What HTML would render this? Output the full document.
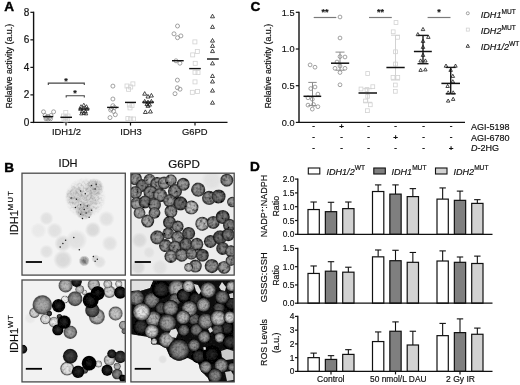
<!DOCTYPE html><html><head><meta charset="utf-8"><title>Figure</title><style>html,body{margin:0;padding:0;background:#fff}svg{display:block}text{stroke:#111;stroke-width:.18px}text.b{stroke:#000;stroke-width:.4px}</style></head><body>
<svg width="520" height="385" viewBox="0 0 520 385" font-family="Liberation Sans, Arial, sans-serif">
<rect width="520" height="385" fill="#fff"/>
<text x="4.2" y="11.1" font-size="13.6" text-anchor="start" fill="#000" class="b" font-weight="bold">A</text>
<line x1="33.6" y1="11.7" x2="33.6" y2="123.10000000000001" stroke="#111" stroke-width="1.4" stroke-linecap="butt"/>
<line x1="32.9" y1="122.4" x2="227.5" y2="122.4" stroke="#111" stroke-width="1.4" stroke-linecap="butt"/>
<line x1="30.400000000000002" y1="122.4" x2="33.6" y2="122.4" stroke="#111" stroke-width="1.2" stroke-linecap="butt"/>
<text x="29.3" y="125.9" font-size="10" text-anchor="end" fill="#111" >0</text>
<line x1="30.400000000000002" y1="94.88000000000001" x2="33.6" y2="94.88000000000001" stroke="#111" stroke-width="1.2" stroke-linecap="butt"/>
<text x="29.3" y="98.38000000000001" font-size="10" text-anchor="end" fill="#111" >2</text>
<line x1="30.400000000000002" y1="67.36000000000001" x2="33.6" y2="67.36000000000001" stroke="#111" stroke-width="1.2" stroke-linecap="butt"/>
<text x="29.3" y="70.86000000000001" font-size="10" text-anchor="end" fill="#111" >4</text>
<line x1="30.400000000000002" y1="39.84" x2="33.6" y2="39.84" stroke="#111" stroke-width="1.2" stroke-linecap="butt"/>
<text x="29.3" y="43.34" font-size="10" text-anchor="end" fill="#111" >6</text>
<line x1="30.400000000000002" y1="12.320000000000007" x2="33.6" y2="12.320000000000007" stroke="#111" stroke-width="1.2" stroke-linecap="butt"/>
<text x="29.3" y="15.820000000000007" font-size="10" text-anchor="end" fill="#111" >8</text>
<line x1="66" y1="122.4" x2="66" y2="125.60000000000001" stroke="#111" stroke-width="1.2" stroke-linecap="butt"/>
<line x1="130.5" y1="122.4" x2="130.5" y2="125.60000000000001" stroke="#111" stroke-width="1.2" stroke-linecap="butt"/>
<line x1="195" y1="122.4" x2="195" y2="125.60000000000001" stroke="#111" stroke-width="1.2" stroke-linecap="butt"/>
<text x="66.5" y="135" font-size="9.4" text-anchor="middle" fill="#111" >IDH1/2</text>
<text x="131" y="135" font-size="9.4" text-anchor="middle" fill="#111" >IDH3</text>
<text x="194.8" y="135" font-size="9.4" text-anchor="middle" fill="#111" >G6PD</text>
<text transform="translate(11.8,66.2) rotate(-90)" font-size="8.9" text-anchor="middle" fill="#111">Relative activity (a.u.)</text>
<path d="M48.3 85 V83.1 H84.3 V85" fill="none" stroke="#444" stroke-width="1.1"/>
<path d="M66.2 97.6 V95.8 H84.3 V97.6" fill="none" stroke="#444" stroke-width="1.1"/>
<text x="66" y="83.5" font-size="9" text-anchor="middle" fill="#111" font-weight="bold">*</text>
<text x="75" y="96" font-size="9" text-anchor="middle" fill="#111" font-weight="bold">*</text>
<circle cx="43.5" cy="111.8" r="2.0" fill="none" stroke="#8a8a8a" stroke-width="0.8"/>
<circle cx="53.6" cy="111.8" r="2.0" fill="none" stroke="#8a8a8a" stroke-width="0.8"/>
<circle cx="45.0" cy="115.5" r="2.0" fill="none" stroke="#8a8a8a" stroke-width="0.8"/>
<circle cx="48.0" cy="116.5" r="2.0" fill="none" stroke="#8a8a8a" stroke-width="0.8"/>
<circle cx="51.0" cy="115.5" r="2.0" fill="none" stroke="#8a8a8a" stroke-width="0.8"/>
<circle cx="46.5" cy="117.5" r="2.0" fill="none" stroke="#8a8a8a" stroke-width="0.8"/>
<circle cx="49.5" cy="117.8" r="2.0" fill="none" stroke="#8a8a8a" stroke-width="0.8"/>
<circle cx="48.0" cy="119.0" r="2.0" fill="none" stroke="#8a8a8a" stroke-width="0.8"/>
<circle cx="46.0" cy="118.8" r="2.0" fill="none" stroke="#8a8a8a" stroke-width="0.8"/>
<circle cx="50.5" cy="118.8" r="2.0" fill="none" stroke="#8a8a8a" stroke-width="0.8"/>
<line x1="43" y1="116.6" x2="53.2" y2="116.6" stroke="#111" stroke-width="1.4" stroke-linecap="butt"/>
<rect x="63.8" y="110.5" width="4.0" height="4.0" fill="none" stroke="#d2d2d2" stroke-width="0.8"/>
<rect x="61.5" y="114.0" width="4.0" height="4.0" fill="none" stroke="#d2d2d2" stroke-width="0.8"/>
<rect x="66.0" y="114.0" width="4.0" height="4.0" fill="none" stroke="#d2d2d2" stroke-width="0.8"/>
<rect x="63.8" y="115.5" width="4.0" height="4.0" fill="none" stroke="#d2d2d2" stroke-width="0.8"/>
<rect x="62.0" y="117.0" width="4.0" height="4.0" fill="none" stroke="#d2d2d2" stroke-width="0.8"/>
<rect x="65.5" y="117.0" width="4.0" height="4.0" fill="none" stroke="#d2d2d2" stroke-width="0.8"/>
<rect x="63.8" y="118.0" width="4.0" height="4.0" fill="none" stroke="#d2d2d2" stroke-width="0.8"/>
<line x1="60.4" y1="117.3" x2="72" y2="117.3" stroke="#111" stroke-width="1.4" stroke-linecap="butt"/>
<path d="M81.0 104.7 L82.8 107.9 L79.2 107.9 Z" fill="none" stroke="#1a1a1a" stroke-width="0.7"/>
<path d="M83.8 103.2 L85.6 106.4 L82.0 106.4 Z" fill="none" stroke="#1a1a1a" stroke-width="0.7"/>
<path d="M86.5 104.7 L88.3 107.9 L84.7 107.9 Z" fill="none" stroke="#1a1a1a" stroke-width="0.7"/>
<path d="M80.5 107.2 L82.3 110.4 L78.7 110.4 Z" fill="none" stroke="#1a1a1a" stroke-width="0.7"/>
<path d="M83.8 106.7 L85.6 109.9 L82.0 109.9 Z" fill="none" stroke="#1a1a1a" stroke-width="0.7"/>
<path d="M87.0 107.2 L88.8 110.4 L85.2 110.4 Z" fill="none" stroke="#1a1a1a" stroke-width="0.7"/>
<path d="M82.0 109.7 L83.8 112.9 L80.2 112.9 Z" fill="none" stroke="#1a1a1a" stroke-width="0.7"/>
<path d="M85.5 109.7 L87.3 112.9 L83.7 112.9 Z" fill="none" stroke="#1a1a1a" stroke-width="0.7"/>
<path d="M83.8 111.2 L85.6 114.4 L82.0 114.4 Z" fill="none" stroke="#1a1a1a" stroke-width="0.7"/>
<path d="M81.5 111.7 L83.3 114.9 L79.7 114.9 Z" fill="none" stroke="#1a1a1a" stroke-width="0.7"/>
<path d="M86.0 111.7 L87.8 114.9 L84.2 114.9 Z" fill="none" stroke="#1a1a1a" stroke-width="0.7"/>
<line x1="78.5" y1="109" x2="89.5" y2="109" stroke="#111" stroke-width="1.4" stroke-linecap="butt"/>
<circle cx="112.9" cy="86.1" r="2.0" fill="none" stroke="#8a8a8a" stroke-width="0.8"/>
<circle cx="112.9" cy="99.0" r="2.0" fill="none" stroke="#8a8a8a" stroke-width="0.8"/>
<circle cx="112.9" cy="105.7" r="2.0" fill="none" stroke="#8a8a8a" stroke-width="0.8"/>
<circle cx="110.7" cy="110.0" r="2.0" fill="none" stroke="#8a8a8a" stroke-width="0.8"/>
<circle cx="113.6" cy="111.4" r="2.0" fill="none" stroke="#8a8a8a" stroke-width="0.8"/>
<circle cx="115.3" cy="114.7" r="2.0" fill="none" stroke="#8a8a8a" stroke-width="0.8"/>
<circle cx="110.0" cy="117.6" r="2.0" fill="none" stroke="#8a8a8a" stroke-width="0.8"/>
<circle cx="111.5" cy="108.5" r="2.0" fill="none" stroke="#8a8a8a" stroke-width="0.8"/>
<circle cx="114.5" cy="107.5" r="2.0" fill="none" stroke="#8a8a8a" stroke-width="0.8"/>
<line x1="107.1" y1="107.4" x2="118.6" y2="107.4" stroke="#111" stroke-width="1.4" stroke-linecap="butt"/>
<rect x="130.9" y="81.9" width="4.0" height="4.0" fill="none" stroke="#d2d2d2" stroke-width="0.8"/>
<rect x="125.0" y="84.0" width="4.0" height="4.0" fill="none" stroke="#d2d2d2" stroke-width="0.8"/>
<rect x="128.7" y="85.0" width="4.0" height="4.0" fill="none" stroke="#d2d2d2" stroke-width="0.8"/>
<rect x="126.6" y="87.3" width="4.0" height="4.0" fill="none" stroke="#d2d2d2" stroke-width="0.8"/>
<rect x="127.3" y="103.0" width="4.0" height="4.0" fill="none" stroke="#d2d2d2" stroke-width="0.8"/>
<rect x="128.0" y="105.9" width="4.0" height="4.0" fill="none" stroke="#d2d2d2" stroke-width="0.8"/>
<rect x="130.0" y="103.5" width="4.0" height="4.0" fill="none" stroke="#d2d2d2" stroke-width="0.8"/>
<rect x="125.9" y="116.6" width="4.0" height="4.0" fill="none" stroke="#d2d2d2" stroke-width="0.8"/>
<rect x="128.7" y="117.0" width="4.0" height="4.0" fill="none" stroke="#d2d2d2" stroke-width="0.8"/>
<rect x="131.6" y="117.0" width="4.0" height="4.0" fill="none" stroke="#d2d2d2" stroke-width="0.8"/>
<line x1="125" y1="102.4" x2="136" y2="102.4" stroke="#111" stroke-width="1.4" stroke-linecap="butt"/>
<path d="M144.7 91.6 L146.7 95.2 L142.7 95.2 Z" fill="none" stroke="#1a1a1a" stroke-width="0.8"/>
<path d="M148.0 94.4 L150.0 98.0 L146.0 98.0 Z" fill="none" stroke="#1a1a1a" stroke-width="0.8"/>
<path d="M151.4 93.4 L153.4 97.0 L149.4 97.0 Z" fill="none" stroke="#1a1a1a" stroke-width="0.8"/>
<path d="M144.7 99.4 L146.7 103.0 L142.7 103.0 Z" fill="none" stroke="#1a1a1a" stroke-width="0.8"/>
<path d="M148.0 100.1 L150.0 103.7 L146.0 103.7 Z" fill="none" stroke="#1a1a1a" stroke-width="0.8"/>
<path d="M151.4 99.4 L153.4 103.0 L149.4 103.0 Z" fill="none" stroke="#1a1a1a" stroke-width="0.8"/>
<path d="M148.0 103.7 L150.0 107.3 L146.0 107.3 Z" fill="none" stroke="#1a1a1a" stroke-width="0.8"/>
<path d="M145.4 109.9 L147.4 113.5 L143.4 113.5 Z" fill="none" stroke="#1a1a1a" stroke-width="0.8"/>
<path d="M150.4 109.4 L152.4 113.0 L148.4 113.0 Z" fill="none" stroke="#1a1a1a" stroke-width="0.8"/>
<path d="M147.0 102.0 L149.0 105.6 L145.0 105.6 Z" fill="none" stroke="#1a1a1a" stroke-width="0.8"/>
<path d="M149.5 102.5 L151.5 106.1 L147.5 106.1 Z" fill="none" stroke="#1a1a1a" stroke-width="0.8"/>
<line x1="142.4" y1="102.1" x2="153.9" y2="102.1" stroke="#111" stroke-width="1.4" stroke-linecap="butt"/>
<circle cx="177.5" cy="26.0" r="2.0" fill="none" stroke="#8a8a8a" stroke-width="0.8"/>
<circle cx="174.0" cy="33.8" r="2.0" fill="none" stroke="#8a8a8a" stroke-width="0.8"/>
<circle cx="180.9" cy="35.9" r="2.0" fill="none" stroke="#8a8a8a" stroke-width="0.8"/>
<circle cx="177.5" cy="37.7" r="2.0" fill="none" stroke="#8a8a8a" stroke-width="0.8"/>
<circle cx="179.9" cy="63.2" r="2.0" fill="none" stroke="#8a8a8a" stroke-width="0.8"/>
<circle cx="177.4" cy="80.1" r="2.0" fill="none" stroke="#8a8a8a" stroke-width="0.8"/>
<circle cx="177.4" cy="87.7" r="2.0" fill="none" stroke="#8a8a8a" stroke-width="0.8"/>
<circle cx="180.0" cy="89.2" r="2.0" fill="none" stroke="#8a8a8a" stroke-width="0.8"/>
<circle cx="175.0" cy="93.7" r="2.0" fill="none" stroke="#8a8a8a" stroke-width="0.8"/>
<circle cx="176.0" cy="60.8" r="2.0" fill="none" stroke="#8a8a8a" stroke-width="0.8"/>
<line x1="172" y1="60.7" x2="183.7" y2="60.7" stroke="#111" stroke-width="1.4" stroke-linecap="butt"/>
<rect x="192.9" y="39.9" width="4.0" height="4.0" fill="none" stroke="#d2d2d2" stroke-width="0.8"/>
<rect x="195.3" y="49.4" width="4.0" height="4.0" fill="none" stroke="#d2d2d2" stroke-width="0.8"/>
<rect x="190.7" y="52.9" width="4.0" height="4.0" fill="none" stroke="#d2d2d2" stroke-width="0.8"/>
<rect x="193.2" y="61.3" width="4.0" height="4.0" fill="none" stroke="#d2d2d2" stroke-width="0.8"/>
<rect x="193.0" y="70.3" width="4.0" height="4.0" fill="none" stroke="#d2d2d2" stroke-width="0.8"/>
<rect x="196.0" y="70.6" width="4.0" height="4.0" fill="none" stroke="#d2d2d2" stroke-width="0.8"/>
<rect x="193.0" y="79.9" width="4.0" height="4.0" fill="none" stroke="#d2d2d2" stroke-width="0.8"/>
<rect x="190.3" y="90.3" width="4.0" height="4.0" fill="none" stroke="#d2d2d2" stroke-width="0.8"/>
<rect x="195.4" y="89.4" width="4.0" height="4.0" fill="none" stroke="#d2d2d2" stroke-width="0.8"/>
<line x1="189.2" y1="68.6" x2="200.8" y2="68.6" stroke="#111" stroke-width="1.4" stroke-linecap="butt"/>
<path d="M212.5 14.2 L214.5 17.8 L210.5 17.8 Z" fill="none" stroke="#1a1a1a" stroke-width="0.8"/>
<path d="M212.5 24.8 L214.5 28.4 L210.5 28.4 Z" fill="none" stroke="#1a1a1a" stroke-width="0.8"/>
<path d="M212.5 38.5 L214.5 42.1 L210.5 42.1 Z" fill="none" stroke="#1a1a1a" stroke-width="0.8"/>
<path d="M212.5 43.8 L214.5 47.4 L210.5 47.4 Z" fill="none" stroke="#1a1a1a" stroke-width="0.8"/>
<path d="M212.5 49.0 L214.5 52.6 L210.5 52.6 Z" fill="none" stroke="#1a1a1a" stroke-width="0.8"/>
<path d="M212.5 61.3 L214.5 64.9 L210.5 64.9 Z" fill="none" stroke="#1a1a1a" stroke-width="0.8"/>
<path d="M212.5 73.9 L214.5 77.5 L210.5 77.5 Z" fill="none" stroke="#1a1a1a" stroke-width="0.8"/>
<path d="M212.5 79.4 L214.5 83.0 L210.5 83.0 Z" fill="none" stroke="#1a1a1a" stroke-width="0.8"/>
<path d="M212.5 88.5 L214.5 92.1 L210.5 92.1 Z" fill="none" stroke="#1a1a1a" stroke-width="0.8"/>
<path d="M212.5 100.6 L214.5 104.2 L210.5 104.2 Z" fill="none" stroke="#1a1a1a" stroke-width="0.8"/>
<line x1="207" y1="59" x2="218.8" y2="59" stroke="#111" stroke-width="1.4" stroke-linecap="butt"/>
<text x="250.4" y="11.1" font-size="13.6" text-anchor="start" fill="#000" class="b" font-weight="bold">C</text>
<line x1="299.0" y1="11.7" x2="299.0" y2="123.10000000000001" stroke="#111" stroke-width="1.4" stroke-linecap="butt"/>
<line x1="298.3" y1="122.4" x2="465" y2="122.4" stroke="#111" stroke-width="1.4" stroke-linecap="butt"/>
<line x1="295.8" y1="122.4" x2="299.0" y2="122.4" stroke="#111" stroke-width="1.2" stroke-linecap="butt"/>
<text x="294.5" y="125.7" font-size="9.2" text-anchor="end" fill="#111" >0.0</text>
<line x1="295.8" y1="85.7" x2="299.0" y2="85.7" stroke="#111" stroke-width="1.2" stroke-linecap="butt"/>
<text x="294.5" y="89.0" font-size="9.2" text-anchor="end" fill="#111" >0.5</text>
<line x1="295.8" y1="49.0" x2="299.0" y2="49.0" stroke="#111" stroke-width="1.2" stroke-linecap="butt"/>
<text x="294.5" y="52.3" font-size="9.2" text-anchor="end" fill="#111" >1.0</text>
<line x1="295.8" y1="12.299999999999997" x2="299.0" y2="12.299999999999997" stroke="#111" stroke-width="1.2" stroke-linecap="butt"/>
<text x="294.5" y="15.599999999999998" font-size="9.2" text-anchor="end" fill="#111" >1.5</text>
<text transform="translate(271.1,66.2) rotate(-90)" font-size="8.9" text-anchor="middle" fill="#111">Relative activity (a.u.)</text>
<line x1="313.7" y1="17.5" x2="336.3" y2="17.5" stroke="#7a7a7a" stroke-width="1.2" stroke-linecap="butt"/>
<line x1="369" y1="17.5" x2="391.8" y2="17.5" stroke="#7a7a7a" stroke-width="1.2" stroke-linecap="butt"/>
<line x1="427.6" y1="17.5" x2="450.5" y2="17.5" stroke="#7a7a7a" stroke-width="1.2" stroke-linecap="butt"/>
<text x="325" y="14.5" font-size="9" text-anchor="middle" fill="#111" font-weight="bold">**</text>
<text x="380.4" y="14.5" font-size="9" text-anchor="middle" fill="#111" font-weight="bold">**</text>
<text x="439" y="14.5" font-size="9" text-anchor="middle" fill="#111" font-weight="bold">*</text>
<line x1="312.5" y1="82.4" x2="312.5" y2="105.6" stroke="#8a8a8a" stroke-width="1.0" stroke-linecap="butt"/>
<line x1="308.3" y1="82.4" x2="316.7" y2="82.4" stroke="#8a8a8a" stroke-width="1.0" stroke-linecap="butt"/>
<line x1="308.3" y1="105.6" x2="316.7" y2="105.6" stroke="#8a8a8a" stroke-width="1.0" stroke-linecap="butt"/>
<circle cx="310.1" cy="64.9" r="1.9" fill="none" stroke="#8a8a8a" stroke-width="0.8"/>
<circle cx="315.0" cy="67.2" r="1.9" fill="none" stroke="#8a8a8a" stroke-width="0.8"/>
<circle cx="315.0" cy="87.0" r="1.9" fill="none" stroke="#8a8a8a" stroke-width="0.8"/>
<circle cx="310.8" cy="88.6" r="1.9" fill="none" stroke="#8a8a8a" stroke-width="0.8"/>
<circle cx="317.9" cy="94.1" r="1.9" fill="none" stroke="#8a8a8a" stroke-width="0.8"/>
<circle cx="308.0" cy="97.8" r="1.9" fill="none" stroke="#8a8a8a" stroke-width="0.8"/>
<circle cx="312.3" cy="99.2" r="1.9" fill="none" stroke="#8a8a8a" stroke-width="0.8"/>
<circle cx="308.0" cy="105.1" r="1.9" fill="none" stroke="#8a8a8a" stroke-width="0.8"/>
<circle cx="317.9" cy="106.7" r="1.9" fill="none" stroke="#8a8a8a" stroke-width="0.8"/>
<circle cx="312.3" cy="109.1" r="1.9" fill="none" stroke="#8a8a8a" stroke-width="0.8"/>
<circle cx="313.5" cy="104.5" r="1.9" fill="none" stroke="#8a8a8a" stroke-width="0.8"/>
<line x1="303.5" y1="96.3" x2="321.2" y2="96.3" stroke="#111" stroke-width="1.5" stroke-linecap="butt"/>
<line x1="340" y1="52.1" x2="340" y2="70.2" stroke="#8a8a8a" stroke-width="1.0" stroke-linecap="butt"/>
<line x1="335.5" y1="52.1" x2="344.5" y2="52.1" stroke="#8a8a8a" stroke-width="1.0" stroke-linecap="butt"/>
<line x1="335.5" y1="70.2" x2="344.5" y2="70.2" stroke="#8a8a8a" stroke-width="1.0" stroke-linecap="butt"/>
<circle cx="340.0" cy="17.0" r="1.9" fill="none" stroke="#8a8a8a" stroke-width="0.8"/>
<circle cx="340.0" cy="38.0" r="1.9" fill="none" stroke="#8a8a8a" stroke-width="0.8"/>
<circle cx="340.0" cy="56.6" r="1.9" fill="none" stroke="#8a8a8a" stroke-width="0.8"/>
<circle cx="345.0" cy="57.0" r="1.9" fill="none" stroke="#8a8a8a" stroke-width="0.8"/>
<circle cx="335.0" cy="68.3" r="1.9" fill="none" stroke="#8a8a8a" stroke-width="0.8"/>
<circle cx="345.0" cy="68.3" r="1.9" fill="none" stroke="#8a8a8a" stroke-width="0.8"/>
<circle cx="340.0" cy="66.0" r="1.9" fill="none" stroke="#8a8a8a" stroke-width="0.8"/>
<circle cx="340.0" cy="72.5" r="1.9" fill="none" stroke="#8a8a8a" stroke-width="0.8"/>
<circle cx="337.0" cy="62.0" r="1.9" fill="none" stroke="#8a8a8a" stroke-width="0.8"/>
<circle cx="340.0" cy="84.8" r="1.9" fill="none" stroke="#8a8a8a" stroke-width="0.8"/>
<line x1="331" y1="63.2" x2="349.2" y2="63.2" stroke="#111" stroke-width="1.5" stroke-linecap="butt"/>
<line x1="367.7" y1="88.7" x2="367.7" y2="102.3" stroke="#d2d2d2" stroke-width="1.0" stroke-linecap="butt"/>
<line x1="363.2" y1="88.7" x2="372.2" y2="88.7" stroke="#d2d2d2" stroke-width="1.0" stroke-linecap="butt"/>
<line x1="363.2" y1="102.3" x2="372.2" y2="102.3" stroke="#d2d2d2" stroke-width="1.0" stroke-linecap="butt"/>
<rect x="365.8" y="71.6" width="3.8" height="3.8" fill="none" stroke="#d2d2d2" stroke-width="0.8"/>
<rect x="370.9" y="84.8" width="3.8" height="3.8" fill="none" stroke="#d2d2d2" stroke-width="0.8"/>
<rect x="359.1" y="87.1" width="3.8" height="3.8" fill="none" stroke="#d2d2d2" stroke-width="0.8"/>
<rect x="365.1" y="87.6" width="3.8" height="3.8" fill="none" stroke="#d2d2d2" stroke-width="0.8"/>
<rect x="365.8" y="94.4" width="3.8" height="3.8" fill="none" stroke="#d2d2d2" stroke-width="0.8"/>
<rect x="363.6" y="99.1" width="3.8" height="3.8" fill="none" stroke="#d2d2d2" stroke-width="0.8"/>
<rect x="368.4" y="102.9" width="3.8" height="3.8" fill="none" stroke="#d2d2d2" stroke-width="0.8"/>
<rect x="365.5" y="108.8" width="3.8" height="3.8" fill="none" stroke="#d2d2d2" stroke-width="0.8"/>
<line x1="358.5" y1="93" x2="377" y2="93" stroke="#111" stroke-width="1.5" stroke-linecap="butt"/>
<line x1="395.5" y1="35.2" x2="395.5" y2="80" stroke="#d2d2d2" stroke-width="1.0" stroke-linecap="butt"/>
<line x1="391.0" y1="35.2" x2="400.0" y2="35.2" stroke="#d2d2d2" stroke-width="1.0" stroke-linecap="butt"/>
<line x1="391.0" y1="80" x2="400.0" y2="80" stroke="#d2d2d2" stroke-width="1.0" stroke-linecap="butt"/>
<rect x="394.1" y="20.6" width="3.8" height="3.8" fill="none" stroke="#d2d2d2" stroke-width="0.8"/>
<rect x="391.3" y="29.9" width="3.8" height="3.8" fill="none" stroke="#d2d2d2" stroke-width="0.8"/>
<rect x="395.6" y="35.4" width="3.8" height="3.8" fill="none" stroke="#d2d2d2" stroke-width="0.8"/>
<rect x="393.6" y="49.9" width="3.8" height="3.8" fill="none" stroke="#d2d2d2" stroke-width="0.8"/>
<rect x="393.6" y="62.1" width="3.8" height="3.8" fill="none" stroke="#d2d2d2" stroke-width="0.8"/>
<rect x="391.1" y="75.5" width="3.8" height="3.8" fill="none" stroke="#d2d2d2" stroke-width="0.8"/>
<rect x="395.9" y="75.5" width="3.8" height="3.8" fill="none" stroke="#d2d2d2" stroke-width="0.8"/>
<rect x="393.4" y="83.1" width="3.8" height="3.8" fill="none" stroke="#d2d2d2" stroke-width="0.8"/>
<rect x="393.4" y="89.4" width="3.8" height="3.8" fill="none" stroke="#d2d2d2" stroke-width="0.8"/>
<line x1="386.4" y1="67.5" x2="404.7" y2="67.5" stroke="#111" stroke-width="1.5" stroke-linecap="butt"/>
<line x1="423" y1="35.4" x2="423" y2="63.7" stroke="#1a1a1a" stroke-width="1.4" stroke-linecap="butt"/>
<line x1="417.5" y1="35.4" x2="428.5" y2="35.4" stroke="#1a1a1a" stroke-width="1.4" stroke-linecap="butt"/>
<line x1="417.5" y1="63.7" x2="428.5" y2="63.7" stroke="#1a1a1a" stroke-width="1.4" stroke-linecap="butt"/>
<path d="M423.0 27.4 L424.8 30.6 L421.2 30.6 Z" fill="none" stroke="#1a1a1a" stroke-width="0.8"/>
<path d="M417.8 32.5 L419.6 35.7 L416.1 35.7 Z" fill="none" stroke="#1a1a1a" stroke-width="0.8"/>
<path d="M428.4 35.2 L430.1 38.4 L426.6 38.4 Z" fill="none" stroke="#1a1a1a" stroke-width="0.8"/>
<path d="M423.0 39.2 L424.8 42.4 L421.2 42.4 Z" fill="none" stroke="#1a1a1a" stroke-width="0.8"/>
<path d="M423.0 45.2 L424.8 48.4 L421.2 48.4 Z" fill="none" stroke="#1a1a1a" stroke-width="0.8"/>
<path d="M423.0 53.2 L424.8 56.4 L421.2 56.4 Z" fill="none" stroke="#1a1a1a" stroke-width="0.8"/>
<path d="M420.6 58.9 L422.4 62.0 L418.9 62.0 Z" fill="none" stroke="#1a1a1a" stroke-width="0.8"/>
<path d="M425.4 58.9 L427.1 62.0 L423.6 62.0 Z" fill="none" stroke="#1a1a1a" stroke-width="0.8"/>
<path d="M420.6 68.2 L422.4 71.4 L418.9 71.4 Z" fill="none" stroke="#1a1a1a" stroke-width="0.8"/>
<path d="M425.4 67.8 L427.1 70.9 L423.6 70.9 Z" fill="none" stroke="#1a1a1a" stroke-width="0.8"/>
<line x1="413.9" y1="51.5" x2="431.8" y2="51.5" stroke="#111" stroke-width="1.5" stroke-linecap="butt"/>
<line x1="450.7" y1="67.4" x2="450.7" y2="93.8" stroke="#1a1a1a" stroke-width="1.4" stroke-linecap="butt"/>
<line x1="445.7" y1="67.4" x2="455.7" y2="67.4" stroke="#1a1a1a" stroke-width="1.4" stroke-linecap="butt"/>
<line x1="445.7" y1="93.8" x2="455.7" y2="93.8" stroke="#1a1a1a" stroke-width="1.4" stroke-linecap="butt"/>
<path d="M446.0 64.0 L447.8 67.2 L444.2 67.2 Z" fill="none" stroke="#1a1a1a" stroke-width="0.8"/>
<path d="M455.5 64.0 L457.2 67.2 L453.8 67.2 Z" fill="none" stroke="#1a1a1a" stroke-width="0.8"/>
<path d="M450.7 68.2 L452.4 71.4 L448.9 71.4 Z" fill="none" stroke="#1a1a1a" stroke-width="0.8"/>
<path d="M452.8 74.2 L454.6 77.4 L451.1 77.4 Z" fill="none" stroke="#1a1a1a" stroke-width="0.8"/>
<path d="M452.8 79.7 L454.6 82.8 L451.1 82.8 Z" fill="none" stroke="#1a1a1a" stroke-width="0.8"/>
<path d="M447.6 84.3 L449.4 87.5 L445.9 87.5 Z" fill="none" stroke="#1a1a1a" stroke-width="0.8"/>
<path d="M448.2 90.8 L449.9 93.9 L446.4 93.9 Z" fill="none" stroke="#1a1a1a" stroke-width="0.8"/>
<path d="M453.2 90.8 L454.9 93.9 L451.4 93.9 Z" fill="none" stroke="#1a1a1a" stroke-width="0.8"/>
<path d="M448.2 99.0 L449.9 102.1 L446.4 102.1 Z" fill="none" stroke="#1a1a1a" stroke-width="0.8"/>
<path d="M453.2 97.2 L454.9 100.4 L451.4 100.4 Z" fill="none" stroke="#1a1a1a" stroke-width="0.8"/>
<line x1="441.4" y1="83.4" x2="460" y2="83.4" stroke="#111" stroke-width="1.5" stroke-linecap="butt"/>
<text x="313.5" y="128.29999999999998" font-size="8" text-anchor="middle" fill="#111" font-weight="bold">-</text>
<text x="341.5" y="129.4" font-size="8" text-anchor="middle" fill="#111" font-weight="bold">+</text>
<text x="368.5" y="128.29999999999998" font-size="8" text-anchor="middle" fill="#111" font-weight="bold">-</text>
<text x="395.7" y="128.29999999999998" font-size="8" text-anchor="middle" fill="#111" font-weight="bold">-</text>
<text x="423.5" y="128.29999999999998" font-size="8" text-anchor="middle" fill="#111" font-weight="bold">-</text>
<text x="451.2" y="128.29999999999998" font-size="8" text-anchor="middle" fill="#111" font-weight="bold">-</text>
<text x="313.5" y="138.79999999999998" font-size="8" text-anchor="middle" fill="#111" font-weight="bold">-</text>
<text x="341.5" y="138.79999999999998" font-size="8" text-anchor="middle" fill="#111" font-weight="bold">-</text>
<text x="368.5" y="138.79999999999998" font-size="8" text-anchor="middle" fill="#111" font-weight="bold">-</text>
<text x="395.7" y="139.9" font-size="8" text-anchor="middle" fill="#111" font-weight="bold">+</text>
<text x="423.5" y="138.79999999999998" font-size="8" text-anchor="middle" fill="#111" font-weight="bold">-</text>
<text x="451.2" y="138.79999999999998" font-size="8" text-anchor="middle" fill="#111" font-weight="bold">-</text>
<text x="313.5" y="149.5" font-size="8" text-anchor="middle" fill="#111" font-weight="bold">-</text>
<text x="341.5" y="149.5" font-size="8" text-anchor="middle" fill="#111" font-weight="bold">-</text>
<text x="368.5" y="149.5" font-size="8" text-anchor="middle" fill="#111" font-weight="bold">-</text>
<text x="395.7" y="149.5" font-size="8" text-anchor="middle" fill="#111" font-weight="bold">-</text>
<text x="423.5" y="149.5" font-size="8" text-anchor="middle" fill="#111" font-weight="bold">-</text>
<text x="451.2" y="150.60000000000002" font-size="8" text-anchor="middle" fill="#111" font-weight="bold">+</text>
<text x="471" y="130.1" font-size="9" text-anchor="start" fill="#111" >AGI-5198</text>
<text x="471" y="140.6" font-size="9" text-anchor="start" fill="#111" >AGI-6780</text>
<text x="471" y="151.3" font-size="9" fill="#111"><tspan font-style="italic">D</tspan>-2HG</text>
<circle cx="467.8" cy="13.3" r="1.5" fill="none" stroke="#8a8a8a" stroke-width="0.8"/>
<rect x="466.3" y="28.1" width="3.0" height="3.0" fill="none" stroke="#d2d2d2" stroke-width="0.8"/>
<path d="M467.8 44.2 L469.5 47.3 L466.1 47.3 Z" fill="none" stroke="#1a1a1a" stroke-width="0.8"/>
<text x="480.8" y="18" font-size="9.05" font-style="italic" fill="#111">IDH1<tspan font-size="6.6" font-style="normal" dy="-4.2">MUT</tspan></text>
<text x="480.8" y="34" font-size="9.05" font-style="italic" fill="#111">IDH2<tspan font-size="6.6" font-style="normal" dy="-4.2">MUT</tspan></text>
<text x="480.8" y="50.2" font-size="9.05" font-style="italic" fill="#111">IDH1/2<tspan font-size="6.6" font-style="normal" dy="-4.2">WT</tspan></text>
<text x="4.2" y="171.6" font-size="13.6" text-anchor="start" fill="#000" class="b" font-weight="bold">B</text>
<text x="68.1" y="167" font-size="11" text-anchor="middle" fill="#111" >IDH</text>
<text x="184" y="167.5" font-size="11.6" text-anchor="middle" fill="#111" >G6PD</text>
<text transform="translate(18.4,235.3) rotate(-90)" font-size="11" text-anchor="start" fill="#111">IDH1<tspan font-size="7.6" dy="-5" letter-spacing="1.4">MUT</tspan></text>
<text transform="translate(18.4,353) rotate(-90)" font-size="11" text-anchor="start" fill="#111">IDH1<tspan font-size="7.6" dy="-5" letter-spacing="0.9">WT</tspan></text>
<defs>
<clipPath id="cp0"><rect x="22" y="173.2" width="103.3" height="101.9"/></clipPath>
<clipPath id="cp1"><rect x="130.9" y="173.2" width="103.3" height="101.9"/></clipPath>
<clipPath id="cp2"><rect x="22" y="280" width="103.3" height="101.9"/></clipPath>
<clipPath id="cp3"><rect x="130.9" y="280" width="103.3" height="101.9"/></clipPath>
<filter id="gr" x="-5%" y="-5%" width="110%" height="110%"><feGaussianBlur in="SourceGraphic" stdDeviation="0.45" result="b"/><feTurbulence type="fractalNoise" baseFrequency="0.33" numOctaves="2" seed="4" result="n"/><feColorMatrix in="n" type="matrix" values="0 0 0 0 0  0 0 0 0 0  0 0 0 0 0  2.0 0 0 0 -0.72" result="na"/><feComposite in="na" in2="b" operator="in" result="nm"/><feMerge><feMergeNode in="b"/><feMergeNode in="nm"/></feMerge></filter>
<filter id="gw" x="-5%" y="-5%" width="110%" height="110%"><feGaussianBlur in="SourceGraphic" stdDeviation="0.45" result="b"/><feTurbulence type="fractalNoise" baseFrequency="0.42" numOctaves="2" seed="7" result="n"/><feColorMatrix in="n" type="matrix" values="0 0 0 0 0  0 0 0 0 0  0 0 0 0 0  1.0 0 0 0 -0.38" result="na"/><feComposite in="na" in2="b" operator="in" result="nm"/><feMerge><feMergeNode in="b"/><feMergeNode in="nm"/></feMerge></filter>
<filter id="gm" x="-5%" y="-5%" width="110%" height="110%"><feGaussianBlur in="SourceGraphic" stdDeviation="0.45" result="b"/><feTurbulence type="fractalNoise" baseFrequency="0.45" numOctaves="2" seed="11" result="n"/><feColorMatrix in="n" type="matrix" values="0 0 0 0 0  0 0 0 0 0  0 0 0 0 0  1.2 0 0 0 -0.42" result="na"/><feComposite in="na" in2="b" operator="in" result="nm"/><feMerge><feMergeNode in="b"/><feMergeNode in="nm"/></feMerge></filter>
<filter id="sb" x="-5%" y="-5%" width="110%" height="110%"><feGaussianBlur stdDeviation="0.5"/></filter>
<radialGradient id="g0"><stop offset="0" stop-color="#d8d8d8"/><stop offset="0.6" stop-color="#d8d8d8" stop-opacity="0.85"/><stop offset="1" stop-color="#d8d8d8" stop-opacity="0"/></radialGradient>
<radialGradient id="g1"><stop offset="0" stop-color="#e0e0e0"/><stop offset="0.6" stop-color="#e0e0e0" stop-opacity="0.85"/><stop offset="1" stop-color="#e0e0e0" stop-opacity="0"/></radialGradient>
<radialGradient id="g2"><stop offset="0" stop-color="#d0d0d0"/><stop offset="0.6" stop-color="#d0d0d0" stop-opacity="0.85"/><stop offset="1" stop-color="#d0d0d0" stop-opacity="0"/></radialGradient>
<radialGradient id="g3"><stop offset="0" stop-color="#e8e8e8"/><stop offset="0.6" stop-color="#e8e8e8" stop-opacity="0.85"/><stop offset="1" stop-color="#e8e8e8" stop-opacity="0"/></radialGradient>
<radialGradient id="g4"><stop offset="0" stop-color="#c8c8c8"/><stop offset="0.6" stop-color="#c8c8c8" stop-opacity="0.85"/><stop offset="1" stop-color="#c8c8c8" stop-opacity="0"/></radialGradient>
<radialGradient id="g5"><stop offset="0" stop-color="#c0c0c0"/><stop offset="0.6" stop-color="#c0c0c0" stop-opacity="0.85"/><stop offset="1" stop-color="#c0c0c0" stop-opacity="0"/></radialGradient>
<radialGradient id="g6"><stop offset="0" stop-color="#a0a0a0"/><stop offset="0.6" stop-color="#a0a0a0" stop-opacity="0.85"/><stop offset="1" stop-color="#a0a0a0" stop-opacity="0"/></radialGradient>
<radialGradient id="g7"><stop offset="0" stop-color="#808080"/><stop offset="0.6" stop-color="#808080" stop-opacity="0.85"/><stop offset="1" stop-color="#808080" stop-opacity="0"/></radialGradient>
<radialGradient id="g8"><stop offset="0" stop-color="#a0a0a0"/><stop offset="0.65" stop-color="#8c8c8c"/><stop offset="0.9" stop-color="#3d3d3d"/><stop offset="1" stop-color="#3d3d3d" stop-opacity="0.7"/></radialGradient>
<radialGradient id="g9"><stop offset="0" stop-color="#888888"/><stop offset="0.65" stop-color="#747474"/><stop offset="0.9" stop-color="#323232"/><stop offset="1" stop-color="#323232" stop-opacity="0.7"/></radialGradient>
<radialGradient id="g10"><stop offset="0" stop-color="#b0b0b0"/><stop offset="0.65" stop-color="#9c9c9c"/><stop offset="0.9" stop-color="#444444"/><stop offset="1" stop-color="#444444" stop-opacity="0.7"/></radialGradient>
<radialGradient id="g11"><stop offset="0" stop-color="#a8a8a8"/><stop offset="0.65" stop-color="#949494"/><stop offset="0.9" stop-color="#404040"/><stop offset="1" stop-color="#404040" stop-opacity="0.7"/></radialGradient>
<radialGradient id="g12"><stop offset="0" stop-color="#989898"/><stop offset="0.65" stop-color="#848484"/><stop offset="0.9" stop-color="#393939"/><stop offset="1" stop-color="#393939" stop-opacity="0.7"/></radialGradient>
<radialGradient id="g13"><stop offset="0" stop-color="#787878"/><stop offset="0.65" stop-color="#646464"/><stop offset="0.9" stop-color="#2b2b2b"/><stop offset="1" stop-color="#2b2b2b" stop-opacity="0.7"/></radialGradient>
<radialGradient id="g14"><stop offset="0" stop-color="#c8c8c8"/><stop offset="0.65" stop-color="#b4b4b4"/><stop offset="0.9" stop-color="#4f4f4f"/><stop offset="1" stop-color="#4f4f4f" stop-opacity="0.7"/></radialGradient>
<radialGradient id="g15"><stop offset="0" stop-color="#808080"/><stop offset="0.65" stop-color="#6c6c6c"/><stop offset="0.9" stop-color="#2e2e2e"/><stop offset="1" stop-color="#2e2e2e" stop-opacity="0.7"/></radialGradient>
<radialGradient id="g16"><stop offset="0" stop-color="#c0c0c0"/><stop offset="0.65" stop-color="#acacac"/><stop offset="0.9" stop-color="#4b4b4b"/><stop offset="1" stop-color="#4b4b4b" stop-opacity="0.7"/></radialGradient>
<radialGradient id="g17"><stop offset="0" stop-color="#f4f4f4"/><stop offset="0.62" stop-color="#d8d8d8"/><stop offset="0.9" stop-color="#767676"/><stop offset="1" stop-color="#767676" stop-opacity="0.55"/></radialGradient>
<radialGradient id="g18"><stop offset="0" stop-color="#ffffff"/><stop offset="0.7" stop-color="#f1f1f1"/><stop offset="0.88" stop-color="#6c6c6c"/><stop offset="1" stop-color="#6c6c6c" stop-opacity="0.3"/></radialGradient>
<radialGradient id="g19"><stop offset="0" stop-color="#e4e4e4"/><stop offset="0.62" stop-color="#c8c8c8"/><stop offset="0.9" stop-color="#6e6e6e"/><stop offset="1" stop-color="#6e6e6e" stop-opacity="0.55"/></radialGradient>
<radialGradient id="g20"><stop offset="0" stop-color="#e8e8e8"/><stop offset="0.7" stop-color="#d9d9d9"/><stop offset="0.88" stop-color="#606060"/><stop offset="1" stop-color="#606060" stop-opacity="0.3"/></radialGradient>
<radialGradient id="g21"><stop offset="0" stop-color="#d4d4d4"/><stop offset="0.62" stop-color="#b8b8b8"/><stop offset="0.9" stop-color="#656565"/><stop offset="1" stop-color="#656565" stop-opacity="0.55"/></radialGradient>
<radialGradient id="g22"><stop offset="0" stop-color="#c4c4c4"/><stop offset="0.62" stop-color="#a8a8a8"/><stop offset="0.9" stop-color="#5c5c5c"/><stop offset="1" stop-color="#5c5c5c" stop-opacity="0.55"/></radialGradient>
<radialGradient id="g23"><stop offset="0" stop-color="#b4b4b4"/><stop offset="0.62" stop-color="#989898"/><stop offset="0.9" stop-color="#535353"/><stop offset="1" stop-color="#535353" stop-opacity="0.55"/></radialGradient>
<radialGradient id="g24"><stop offset="0" stop-color="#acacac"/><stop offset="0.62" stop-color="#909090"/><stop offset="0.9" stop-color="#4f4f4f"/><stop offset="1" stop-color="#4f4f4f" stop-opacity="0.55"/></radialGradient>
<radialGradient id="g25"><stop offset="0" stop-color="#9c9c9c"/><stop offset="0.62" stop-color="#808080"/><stop offset="0.9" stop-color="#464646"/><stop offset="1" stop-color="#464646" stop-opacity="0.55"/></radialGradient>
<radialGradient id="g26"><stop offset="0" stop-color="#8c8c8c"/><stop offset="0.62" stop-color="#707070"/><stop offset="0.9" stop-color="#3d3d3d"/><stop offset="1" stop-color="#3d3d3d" stop-opacity="0.55"/></radialGradient>
<radialGradient id="g27"><stop offset="0" stop-color="#6c6c6c"/><stop offset="0.62" stop-color="#505050"/><stop offset="0.9" stop-color="#2c2c2c"/><stop offset="1" stop-color="#2c2c2c" stop-opacity="0.55"/></radialGradient>
<radialGradient id="g28"><stop offset="0" stop-color="#5c5c5c"/><stop offset="0.62" stop-color="#404040"/><stop offset="0.9" stop-color="#232323"/><stop offset="1" stop-color="#232323" stop-opacity="0.55"/></radialGradient>
<radialGradient id="g29"><stop offset="0" stop-color="#4c4c4c"/><stop offset="0.62" stop-color="#303030"/><stop offset="0.9" stop-color="#1a1a1a"/><stop offset="1" stop-color="#1a1a1a" stop-opacity="0.55"/></radialGradient>
<radialGradient id="g30"><stop offset="0" stop-color="#3c3c3c"/><stop offset="0.62" stop-color="#202020"/><stop offset="0.9" stop-color="#111111"/><stop offset="1" stop-color="#111111" stop-opacity="0.55"/></radialGradient>
<radialGradient id="g31"><stop offset="0" stop-color="#343434"/><stop offset="0.62" stop-color="#181818"/><stop offset="0.9" stop-color="#0d0d0d"/><stop offset="1" stop-color="#0d0d0d" stop-opacity="0.55"/></radialGradient>
<radialGradient id="g32"><stop offset="0" stop-color="#2c2c2c"/><stop offset="0.62" stop-color="#101010"/><stop offset="0.9" stop-color="#080808"/><stop offset="1" stop-color="#080808" stop-opacity="0.55"/></radialGradient>
<radialGradient id="g33"><stop offset="0" stop-color="#242424"/><stop offset="0.62" stop-color="#080808"/><stop offset="0.9" stop-color="#040404"/><stop offset="1" stop-color="#040404" stop-opacity="0.55"/></radialGradient>
<radialGradient id="g34"><stop offset="0" stop-color="#969696"/><stop offset="0.55" stop-color="#828282"/><stop offset="0.82" stop-color="#454545"/><stop offset="1" stop-color="#0b0b0b"/></radialGradient>
<radialGradient id="g35"><stop offset="0" stop-color="#464646"/><stop offset="0.55" stop-color="#323232"/><stop offset="0.82" stop-color="#131313"/><stop offset="1" stop-color="#030303"/></radialGradient>
<radialGradient id="g36"><stop offset="0" stop-color="#3e3e3e"/><stop offset="0.55" stop-color="#2a2a2a"/><stop offset="0.82" stop-color="#0e0e0e"/><stop offset="1" stop-color="#020202"/></radialGradient>
<radialGradient id="g37"><stop offset="0" stop-color="#b6b6b6"/><stop offset="0.55" stop-color="#a2a2a2"/><stop offset="0.82" stop-color="#595959"/><stop offset="1" stop-color="#0e0e0e"/></radialGradient>
<radialGradient id="g38"><stop offset="0" stop-color="#666666"/><stop offset="0.55" stop-color="#525252"/><stop offset="0.82" stop-color="#272727"/><stop offset="1" stop-color="#060606"/></radialGradient>
<radialGradient id="g39"><stop offset="0" stop-color="#868686"/><stop offset="0.55" stop-color="#727272"/><stop offset="0.82" stop-color="#3b3b3b"/><stop offset="1" stop-color="#090909"/></radialGradient>
<radialGradient id="g40"><stop offset="0" stop-color="#a6a6a6"/><stop offset="0.55" stop-color="#929292"/><stop offset="0.82" stop-color="#4f4f4f"/><stop offset="1" stop-color="#0c0c0c"/></radialGradient>
<radialGradient id="g41"><stop offset="0" stop-color="#dedede"/><stop offset="0.55" stop-color="#cacaca"/><stop offset="0.82" stop-color="#727272"/><stop offset="1" stop-color="#121212"/></radialGradient>
<radialGradient id="g42"><stop offset="0" stop-color="#eeeeee"/><stop offset="0.55" stop-color="#dadada"/><stop offset="0.82" stop-color="#7c7c7c"/><stop offset="1" stop-color="#141414"/></radialGradient>
<radialGradient id="g43"><stop offset="0" stop-color="#767676"/><stop offset="0.55" stop-color="#626262"/><stop offset="0.82" stop-color="#313131"/><stop offset="1" stop-color="#080808"/></radialGradient>
<radialGradient id="g44"><stop offset="0" stop-color="#bebebe"/><stop offset="0.55" stop-color="#aaaaaa"/><stop offset="0.82" stop-color="#5e5e5e"/><stop offset="1" stop-color="#0f0f0f"/></radialGradient>
<radialGradient id="g45"><stop offset="0" stop-color="#cecece"/><stop offset="0.55" stop-color="#bababa"/><stop offset="0.82" stop-color="#686868"/><stop offset="1" stop-color="#101010"/></radialGradient>
<radialGradient id="g46"><stop offset="0" stop-color="#2e2e2e"/><stop offset="0.55" stop-color="#1a1a1a"/><stop offset="0.82" stop-color="#040404"/><stop offset="1" stop-color="#000000"/></radialGradient>
<radialGradient id="g47"><stop offset="0" stop-color="#8e8e8e"/><stop offset="0.55" stop-color="#7a7a7a"/><stop offset="0.82" stop-color="#404040"/><stop offset="1" stop-color="#0a0a0a"/></radialGradient>
</defs>
<g clip-path="url(#cp0)">
<rect x="22" y="173.2" width="103.3" height="101.9" fill="#f3f3f3"/>
<g filter="url(#sb)">
<circle cx="92.9" cy="229.8" r="8.2" fill="url(#g0)"/>
<circle cx="106.5" cy="218.9" r="8.2" fill="url(#g1)"/>
<circle cx="46.5" cy="218.4" r="7.1" fill="url(#g1)"/>
<circle cx="62.9" cy="243.4" r="8.7" fill="url(#g0)"/>
<circle cx="62.9" cy="259.8" r="9.8" fill="url(#g0)"/>
<circle cx="46.5" cy="251.6" r="7.1" fill="url(#g1)"/>
<circle cx="109.8" cy="243.4" r="8.2" fill="url(#g1)"/>
<circle cx="76.5" cy="240.2" r="10.9" fill="url(#g1)"/>
<circle cx="95.6" cy="258.7" r="4.4" fill="url(#g2)"/>
<circle cx="38.4" cy="230.6" r="8.2" fill="url(#g3)"/>
<circle cx="54.7" cy="230.6" r="8.2" fill="url(#g1)"/>
<circle cx="99.7" cy="262.0" r="6.5" fill="url(#g1)"/>
</g>
<g filter="url(#gw)">
<circle cx="85.3" cy="197.9" r="20.7" fill="url(#g1)"/>
<circle cx="94.3" cy="187.8" r="9.8" fill="url(#g4)"/>
<circle cx="76.0" cy="196.5" r="10.9" fill="url(#g2)"/>
<circle cx="84.2" cy="210.7" r="9.3" fill="url(#g5)"/>
<circle cx="90.2" cy="199.3" r="7.6" fill="url(#g2)"/>
<circle cx="84.2" cy="260.9" r="5.5" fill="url(#g6)"/>
<circle cx="84.2" cy="261.4" r="2.7" fill="url(#g7)"/>
</g>
<g filter="url(#sb)">
<circle cx="80.6" cy="214.3" r="0.75" fill="#222"/>
<circle cx="86.1" cy="212.9" r="0.75" fill="#222"/>
<circle cx="84.2" cy="209.6" r="0.75" fill="#222"/>
<circle cx="89.1" cy="217.3" r="0.75" fill="#222"/>
<circle cx="82.5" cy="218.4" r="0.75" fill="#222"/>
<circle cx="93.4" cy="256.5" r="0.75" fill="#222"/>
<circle cx="97.3" cy="259.3" r="0.75" fill="#222"/>
<circle cx="95.1" cy="261.2" r="0.75" fill="#222"/>
<circle cx="87.4" cy="206.1" r="0.75" fill="#222"/>
<circle cx="91.5" cy="210.2" r="0.75" fill="#222"/>
<circle cx="80.6" cy="204.7" r="0.75" fill="#222"/>
<circle cx="76.5" cy="199.3" r="0.75" fill="#222"/>
<circle cx="95.1" cy="188.9" r="0.75" fill="#222"/>
<circle cx="96.2" cy="184.3" r="0.75" fill="#222"/>
<circle cx="91.5" cy="185.6" r="0.75" fill="#222"/>
<circle cx="85.3" cy="193.8" r="0.75" fill="#222"/>
<circle cx="75.4" cy="207.5" r="0.75" fill="#222"/>
<circle cx="71.1" cy="197.9" r="0.75" fill="#222"/>
<circle cx="80.6" cy="191.1" r="0.75" fill="#222"/>
<circle cx="62.9" cy="243.4" r="0.75" fill="#222"/>
<circle cx="60.2" cy="247.0" r="0.75" fill="#222"/>
<circle cx="65.6" cy="240.2" r="0.75" fill="#222"/>
<circle cx="79.3" cy="249.7" r="0.75" fill="#222"/>
<circle cx="73.8" cy="237.4" r="0.75" fill="#222"/>
</g>
</g>
<rect x="22" y="173.2" width="103.3" height="101.9" fill="none" stroke="#4a4a4a" stroke-width="1.3"/>
<line x1="25.8" y1="262.0" x2="42" y2="262.0" stroke="#000" stroke-width="1.8" stroke-linecap="butt"/>
<g clip-path="url(#cp1)">
<rect x="130.9" y="173.2" width="103.3" height="101.9" fill="#ececec"/>
<g filter="url(#sb)">
<circle cx="139.5" cy="240.2" r="8.2" fill="url(#g0)"/>
<circle cx="138.2" cy="267.4" r="7.6" fill="url(#g0)"/>
<circle cx="149.1" cy="252.4" r="6.0" fill="url(#g1)"/>
<circle cx="211.8" cy="180.2" r="10.9" fill="url(#g1)"/>
<circle cx="160.0" cy="267.4" r="8.2" fill="url(#g1)"/>
</g>
<g filter="url(#gr)">
<circle cx="135.5" cy="178.8" r="6.5" fill="url(#g8)"/>
<circle cx="142.3" cy="185.6" r="6.5" fill="url(#g9)"/>
<circle cx="135.5" cy="192.5" r="6.5" fill="url(#g8)"/>
<circle cx="149.6" cy="179.6" r="5.9" fill="url(#g10)"/>
<circle cx="157.3" cy="184.3" r="7.4" fill="url(#g8)"/>
<circle cx="164.1" cy="182.9" r="6.5" fill="url(#g11)"/>
<circle cx="170.9" cy="180.2" r="5.9" fill="url(#g10)"/>
<circle cx="150.5" cy="192.5" r="7.1" fill="url(#g12)"/>
<circle cx="160.0" cy="195.2" r="7.1" fill="url(#g8)"/>
<circle cx="136.8" cy="203.4" r="6.5" fill="url(#g11)"/>
<circle cx="145.0" cy="202.0" r="6.5" fill="url(#g9)"/>
<circle cx="154.5" cy="204.7" r="6.5" fill="url(#g12)"/>
<circle cx="139.5" cy="212.9" r="5.9" fill="url(#g10)"/>
<circle cx="147.7" cy="221.1" r="6.5" fill="url(#g10)"/>
<circle cx="154.5" cy="212.9" r="5.9" fill="url(#g8)"/>
<circle cx="175.0" cy="191.1" r="7.1" fill="url(#g12)"/>
<circle cx="183.2" cy="184.3" r="6.5" fill="url(#g8)"/>
<circle cx="169.5" cy="200.6" r="6.5" fill="url(#g8)"/>
<circle cx="180.4" cy="203.4" r="7.1" fill="url(#g13)"/>
<circle cx="170.9" cy="211.5" r="6.5" fill="url(#g8)"/>
<circle cx="191.4" cy="207.5" r="7.1" fill="url(#g14)"/>
<circle cx="198.2" cy="189.7" r="7.1" fill="url(#g8)"/>
<circle cx="209.1" cy="197.9" r="7.1" fill="url(#g12)"/>
<circle cx="218.6" cy="196.5" r="7.1" fill="url(#g15)"/>
<circle cx="226.8" cy="180.2" r="6.5" fill="url(#g8)"/>
<circle cx="232.3" cy="202.0" r="5.3" fill="url(#g8)"/>
<circle cx="169.5" cy="222.4" r="6.5" fill="url(#g9)"/>
<circle cx="177.7" cy="226.5" r="5.9" fill="url(#g12)"/>
<circle cx="202.3" cy="223.8" r="7.1" fill="url(#g14)"/>
<circle cx="213.2" cy="222.4" r="6.5" fill="url(#g12)"/>
<circle cx="222.7" cy="217.0" r="7.1" fill="url(#g15)"/>
<circle cx="229.5" cy="225.2" r="6.5" fill="url(#g9)"/>
<circle cx="157.3" cy="237.4" r="7.1" fill="url(#g8)"/>
<circle cx="168.2" cy="233.4" r="5.9" fill="url(#g12)"/>
<circle cx="177.7" cy="237.4" r="6.5" fill="url(#g8)"/>
<circle cx="188.6" cy="233.4" r="6.5" fill="url(#g15)"/>
<circle cx="165.5" cy="245.6" r="6.5" fill="url(#g8)"/>
<circle cx="175.0" cy="247.0" r="6.5" fill="url(#g12)"/>
<circle cx="185.9" cy="244.3" r="6.5" fill="url(#g9)"/>
<circle cx="196.8" cy="244.3" r="6.5" fill="url(#g12)"/>
<circle cx="170.9" cy="256.5" r="6.5" fill="url(#g11)"/>
<circle cx="181.8" cy="255.2" r="6.5" fill="url(#g8)"/>
<circle cx="191.4" cy="253.8" r="5.9" fill="url(#g12)"/>
<circle cx="202.3" cy="255.2" r="6.5" fill="url(#g15)"/>
<circle cx="210.4" cy="241.5" r="6.5" fill="url(#g9)"/>
<circle cx="220.0" cy="237.4" r="7.1" fill="url(#g13)"/>
<circle cx="228.2" cy="234.7" r="6.5" fill="url(#g15)"/>
<circle cx="222.7" cy="248.4" r="6.5" fill="url(#g9)"/>
<circle cx="230.9" cy="251.1" r="5.9" fill="url(#g12)"/>
<circle cx="195.4" cy="266.1" r="6.5" fill="url(#g11)"/>
<circle cx="211.8" cy="266.1" r="7.1" fill="url(#g8)"/>
<circle cx="224.1" cy="267.4" r="6.5" fill="url(#g11)"/>
<circle cx="230.9" cy="260.6" r="5.3" fill="url(#g8)"/>
<circle cx="188.6" cy="267.4" r="4.4" fill="url(#g16)"/>
</g>
</g>
<rect x="130.9" y="173.2" width="103.3" height="101.9" fill="none" stroke="#4a4a4a" stroke-width="1.3"/>
<line x1="134.70000000000002" y1="262.0" x2="150.9" y2="262.0" stroke="#000" stroke-width="1.8" stroke-linecap="butt"/>
<g clip-path="url(#cp2)">
<rect x="22" y="280" width="103.3" height="101.9" fill="#f2f2f2"/>
<g filter="url(#sb)">
<circle cx="30.2" cy="318.2" r="6.0" fill="url(#g3)"/>
</g>
<g filter="url(#gw)">
<circle cx="53.9" cy="322.1" r="5.4" fill="url(#g17)"/>
<circle cx="118.8" cy="283.9" r="3.6" fill="url(#g17)"/>
<circle cx="84.5" cy="292.5" r="2.7" fill="url(#g17)"/>
<circle cx="98.5" cy="364.0" r="3.6" fill="url(#g17)"/>
<circle cx="64.9" cy="299.5" r="3.9" fill="url(#g18)"/>
<circle cx="34.5" cy="312.7" r="5.4" fill="url(#g19)"/>
<circle cx="109.4" cy="291.7" r="6.3" fill="url(#g19)"/>
<circle cx="107.8" cy="283.9" r="4.5" fill="url(#g19)"/>
<circle cx="109.4" cy="360.1" r="5.7" fill="url(#g19)"/>
<circle cx="67.2" cy="368.6" r="7.2" fill="url(#g20)"/>
<circle cx="45.4" cy="319.0" r="5.4" fill="url(#g20)"/>
<circle cx="79.7" cy="289.4" r="4.5" fill="url(#g21)"/>
<circle cx="93.8" cy="284.7" r="6.3" fill="url(#g21)"/>
<circle cx="115.6" cy="313.5" r="7.2" fill="url(#g21)"/>
<circle cx="65.6" cy="285.5" r="7.2" fill="url(#g22)"/>
<circle cx="96.9" cy="316.6" r="8.1" fill="url(#g22)"/>
<circle cx="123.4" cy="325.2" r="4.5" fill="url(#g22)"/>
<circle cx="117.2" cy="366.3" r="3.6" fill="url(#g22)"/>
<circle cx="42.3" cy="304.9" r="9.9" fill="url(#g23)"/>
<circle cx="70.3" cy="332.2" r="6.8" fill="url(#g24)"/>
<circle cx="75.0" cy="298.7" r="7.5" fill="url(#g25)"/>
<circle cx="117.2" cy="374.1" r="5.4" fill="url(#g26)"/>
<circle cx="124.2" cy="331.2" r="2.7" fill="url(#g26)"/>
<circle cx="92.3" cy="310.4" r="7.2" fill="url(#g27)"/>
<circle cx="84.5" cy="370.2" r="3.6" fill="url(#g27)"/>
<circle cx="59.4" cy="316.6" r="2.7" fill="url(#g28)"/>
<circle cx="49.3" cy="313.5" r="2.7" fill="url(#g29)"/>
<circle cx="70.3" cy="356.2" r="7.5" fill="url(#g29)"/>
<circle cx="120.3" cy="356.9" r="6.3" fill="url(#g29)"/>
<circle cx="76.5" cy="281.6" r="5.4" fill="url(#g30)"/>
<circle cx="22.8" cy="349.2" r="4.5" fill="url(#g30)"/>
<circle cx="111.7" cy="353.8" r="4.5" fill="url(#g30)"/>
<circle cx="57.8" cy="329.9" r="5.7" fill="url(#g31)"/>
<circle cx="120.3" cy="292.5" r="6.3" fill="url(#g31)"/>
<circle cx="78.1" cy="371.8" r="6.3" fill="url(#g31)"/>
<circle cx="107.1" cy="370.2" r="5.7" fill="url(#g31)"/>
<circle cx="58.6" cy="305.7" r="6.8" fill="url(#g32)"/>
<circle cx="64.1" cy="322.1" r="6.8" fill="url(#g32)"/>
<circle cx="90.7" cy="300.3" r="8.1" fill="url(#g32)"/>
<circle cx="122.6" cy="378.0" r="3.6" fill="url(#g32)"/>
<circle cx="97.7" cy="293.2" r="7.2" fill="url(#g33)"/>
<circle cx="89.1" cy="363.2" r="7.5" fill="url(#g33)"/>
</g>
</g>
<rect x="22" y="280" width="103.3" height="101.9" fill="none" stroke="#4a4a4a" stroke-width="1.3"/>
<line x1="25.8" y1="368.8" x2="42" y2="368.8" stroke="#000" stroke-width="1.8" stroke-linecap="butt"/>
<g clip-path="url(#cp3)">
<rect x="130.9" y="280" width="103.3" height="101.9" fill="#f0f0f0"/>
<g filter="url(#gm)">
<polygon points="130,291 130,334 142,336 150,337 155,344 160,345 166,348 170,357 179,359.5 188,358 192,360 198,363 202,372 208,378 210,384 236,384 236,280 153,280 150,288 140,291" fill="#161616"/>
<circle cx="136.2" cy="297.9" r="8.1" fill="url(#g34)"/>
<circle cx="140.9" cy="326.8" r="8.1" fill="url(#g35)"/>
<circle cx="151.8" cy="300.3" r="8.1" fill="url(#g34)"/>
<circle cx="161.2" cy="289.4" r="9.0" fill="url(#g36)"/>
<circle cx="176.8" cy="288.6" r="9.0" fill="url(#g37)"/>
<circle cx="161.2" cy="308.1" r="6.3" fill="url(#g38)"/>
<circle cx="175.2" cy="299.5" r="6.3" fill="url(#g39)"/>
<circle cx="170.5" cy="308.1" r="8.1" fill="url(#g40)"/>
<circle cx="153.4" cy="319.0" r="8.1" fill="url(#g37)"/>
<circle cx="167.4" cy="322.9" r="9.0" fill="url(#g40)"/>
<circle cx="151.8" cy="331.4" r="7.2" fill="url(#g41)"/>
<circle cx="141.7" cy="311.9" r="9.0" fill="url(#g42)"/>
<circle cx="183.8" cy="330.2" r="6.0" fill="url(#g39)"/>
<circle cx="183.9" cy="295.6" r="7.2" fill="url(#g35)"/>
<circle cx="195.6" cy="298.7" r="7.2" fill="url(#g36)"/>
<circle cx="231.4" cy="303.4" r="7.2" fill="url(#g36)"/>
<circle cx="226.8" cy="328.3" r="7.2" fill="url(#g36)"/>
<circle cx="219.0" cy="308.1" r="6.3" fill="url(#g38)"/>
<circle cx="217.4" cy="329.9" r="6.3" fill="url(#g38)"/>
<circle cx="194.0" cy="319.0" r="6.3" fill="url(#g43)"/>
<circle cx="222.1" cy="297.1" r="7.2" fill="url(#g39)"/>
<circle cx="196.4" cy="329.9" r="6.3" fill="url(#g39)"/>
<circle cx="188.6" cy="286.2" r="6.3" fill="url(#g41)"/>
<circle cx="208.1" cy="290.1" r="8.1" fill="url(#g44)"/>
<circle cx="231.4" cy="286.2" r="5.4" fill="url(#g45)"/>
<circle cx="203.4" cy="304.9" r="7.2" fill="url(#g37)"/>
<circle cx="189.4" cy="308.8" r="8.1" fill="url(#g37)"/>
<circle cx="183.1" cy="317.4" r="7.2" fill="url(#g44)"/>
<circle cx="205.7" cy="321.3" r="8.1" fill="url(#g40)"/>
<circle cx="218.2" cy="318.2" r="8.1" fill="url(#g45)"/>
<circle cx="229.9" cy="317.4" r="6.3" fill="url(#g41)"/>
<circle cx="204.2" cy="336.9" r="6.3" fill="url(#g40)"/>
<circle cx="219.7" cy="337.7" r="5.4" fill="url(#g44)"/>
<circle cx="166.6" cy="339.8" r="8.1" fill="url(#g44)"/>
<circle cx="154.2" cy="341.4" r="3.3" fill="url(#g42)"/>
<circle cx="179.1" cy="349.9" r="10.8" fill="url(#g34)"/>
<circle cx="229.9" cy="342.1" r="7.2" fill="url(#g35)"/>
<circle cx="198.7" cy="356.2" r="7.2" fill="url(#g35)"/>
<circle cx="211.9" cy="354.6" r="9.0" fill="url(#g46)"/>
<circle cx="194.0" cy="345.3" r="6.3" fill="url(#g34)"/>
<circle cx="205.7" cy="367.1" r="6.3" fill="url(#g40)"/>
<circle cx="221.3" cy="365.5" r="7.2" fill="url(#g40)"/>
<circle cx="232.2" cy="367.1" r="4.5" fill="url(#g34)"/>
<circle cx="215.1" cy="375.6" r="7.2" fill="url(#g47)"/>
</g>
<g filter="url(#sb)">
<circle cx="162.7" cy="359.3" r="4.7" fill="url(#g1)"/>
<polygon points="131,281 153,281 150,287 141,290 131,291" fill="#e2e2e2"/>
<polygon points="171,330 176,328.5 178,333 176,338 172,337 169,334" fill="#e0e0e0"/>
<polygon points="194,284 198,285 201,291 199,294.5 196,291" fill="#dcdcdc"/>
<polygon points="219,287 222,282 226,287 225,291 221,290" fill="#dcdcdc"/>
<polygon points="229,294 233,293 233.5,298 230,298" fill="#d0d0d0"/>
<polygon points="208,329 211,327 213,331 210,333" fill="#d8d8d8"/>
<polygon points="221,351 227,349 233.5,351 233.5,359 226,360 222,357" fill="#cccccc"/>
<polygon points="225,372 231,371 233.5,375 233.5,380 227,381" fill="#cccccc"/>
<polygon points="203.5,347 206,347.5 205.5,350 203.5,349.5" fill="#eeeeee"/>
</g>
</g>
<rect x="130.9" y="280" width="103.3" height="101.9" fill="none" stroke="#4a4a4a" stroke-width="1.3"/>
<line x1="134.70000000000002" y1="368.8" x2="150.9" y2="368.8" stroke="#000" stroke-width="1.8" stroke-linecap="butt"/>
<text x="250.1" y="171.3" font-size="13.6" text-anchor="start" fill="#000" class="b" font-weight="bold">D</text>
<rect x="308.3" y="168" width="11.5" height="6" fill="#fff" stroke="#111" stroke-width="1.1"/>
<text x="326.5" y="174.5" font-size="9.05" font-style="italic" fill="#111">IDH1/2<tspan font-size="6.6" font-style="normal" dy="-4.2">WT</tspan></text>
<rect x="373.8" y="168" width="11.5" height="6" fill="#7f7f7f" stroke="#111" stroke-width="1.1"/>
<text x="391.5" y="174.5" font-size="9.05" font-style="italic" fill="#111">IDH1<tspan font-size="6.6" font-style="normal" dy="-4.2">MUT</tspan></text>
<rect x="435.5" y="168" width="11.5" height="6" fill="#d2d2d2" stroke="#111" stroke-width="1.1"/>
<text x="453.5" y="174.5" font-size="9.05" font-style="italic" fill="#111">IDH2<tspan font-size="6.6" font-style="normal" dy="-4.2">MUT</tspan></text>
<line x1="313.65" y1="202.008" x2="313.65" y2="209.5428" stroke="#111" stroke-width="1.1" stroke-linecap="butt"/>
<line x1="310.45" y1="202.008" x2="316.84999999999997" y2="202.008" stroke="#111" stroke-width="1.1" stroke-linecap="butt"/>
<rect x="308.0" y="209.54" width="11.3" height="24.76" fill="#fff" stroke="#111" stroke-width="1.2"/>
<line x1="331.0" y1="202.28400000000002" x2="331.0" y2="211.668" stroke="#111" stroke-width="1.1" stroke-linecap="butt"/>
<line x1="327.8" y1="202.28400000000002" x2="334.2" y2="202.28400000000002" stroke="#111" stroke-width="1.1" stroke-linecap="butt"/>
<rect x="325.35" y="211.67" width="11.3" height="22.63" fill="#7f7f7f" stroke="#111" stroke-width="1.2"/>
<line x1="348.35" y1="202.008" x2="348.35" y2="208.632" stroke="#111" stroke-width="1.1" stroke-linecap="butt"/>
<line x1="345.15000000000003" y1="202.008" x2="351.55" y2="202.008" stroke="#111" stroke-width="1.1" stroke-linecap="butt"/>
<rect x="342.70000000000005" y="208.63" width="11.3" height="25.67" fill="#d2d2d2" stroke="#111" stroke-width="1.2"/>
<line x1="378.15" y1="184.89600000000002" x2="378.15" y2="191.52" stroke="#111" stroke-width="1.1" stroke-linecap="butt"/>
<line x1="374.95" y1="184.89600000000002" x2="381.34999999999997" y2="184.89600000000002" stroke="#111" stroke-width="1.1" stroke-linecap="butt"/>
<rect x="372.5" y="191.52" width="11.3" height="42.78" fill="#fff" stroke="#111" stroke-width="1.2"/>
<line x1="395.5" y1="184.89600000000002" x2="395.5" y2="194.11440000000002" stroke="#111" stroke-width="1.1" stroke-linecap="butt"/>
<line x1="392.3" y1="184.89600000000002" x2="398.7" y2="184.89600000000002" stroke="#111" stroke-width="1.1" stroke-linecap="butt"/>
<rect x="389.85" y="194.11" width="11.3" height="40.19" fill="#7f7f7f" stroke="#111" stroke-width="1.2"/>
<line x1="412.85" y1="188.622" x2="412.85" y2="196.5984" stroke="#111" stroke-width="1.1" stroke-linecap="butt"/>
<line x1="409.65000000000003" y1="188.622" x2="416.05" y2="188.622" stroke="#111" stroke-width="1.1" stroke-linecap="butt"/>
<rect x="407.20000000000005" y="196.60" width="11.3" height="37.70" fill="#d2d2d2" stroke="#111" stroke-width="1.2"/>
<line x1="442.65" y1="187.93200000000002" x2="442.65" y2="199.11" stroke="#111" stroke-width="1.1" stroke-linecap="butt"/>
<line x1="439.45" y1="187.93200000000002" x2="445.84999999999997" y2="187.93200000000002" stroke="#111" stroke-width="1.1" stroke-linecap="butt"/>
<rect x="437.0" y="199.11" width="11.3" height="35.19" fill="#fff" stroke="#111" stroke-width="1.2"/>
<line x1="460.0" y1="191.106" x2="460.0" y2="200.352" stroke="#111" stroke-width="1.1" stroke-linecap="butt"/>
<line x1="456.8" y1="191.106" x2="463.2" y2="191.106" stroke="#111" stroke-width="1.1" stroke-linecap="butt"/>
<rect x="454.35" y="200.35" width="11.3" height="33.95" fill="#7f7f7f" stroke="#111" stroke-width="1.2"/>
<line x1="477.35" y1="199.662" x2="477.35" y2="203.388" stroke="#111" stroke-width="1.1" stroke-linecap="butt"/>
<line x1="474.15000000000003" y1="199.662" x2="480.55" y2="199.662" stroke="#111" stroke-width="1.1" stroke-linecap="butt"/>
<rect x="471.70000000000005" y="203.39" width="11.3" height="30.91" fill="#d2d2d2" stroke="#111" stroke-width="1.2"/>
<line x1="297.8" y1="178.50000000000003" x2="297.8" y2="234.95000000000002" stroke="#111" stroke-width="1.3" stroke-linecap="butt"/>
<line x1="297.15000000000003" y1="234.3" x2="492.5" y2="234.3" stroke="#111" stroke-width="1.3" stroke-linecap="butt"/>
<line x1="295.0" y1="234.3" x2="297.8" y2="234.3" stroke="#111" stroke-width="1.2" stroke-linecap="butt"/>
<text x="294.3" y="237.3" font-size="8.4" text-anchor="end" fill="#111" >0.0</text>
<line x1="295.0" y1="220.5" x2="297.8" y2="220.5" stroke="#111" stroke-width="1.2" stroke-linecap="butt"/>
<text x="294.3" y="223.5" font-size="8.4" text-anchor="end" fill="#111" >0.5</text>
<line x1="295.0" y1="206.70000000000002" x2="297.8" y2="206.70000000000002" stroke="#111" stroke-width="1.2" stroke-linecap="butt"/>
<text x="294.3" y="209.70000000000002" font-size="8.4" text-anchor="end" fill="#111" >1.0</text>
<line x1="295.0" y1="192.9" x2="297.8" y2="192.9" stroke="#111" stroke-width="1.2" stroke-linecap="butt"/>
<text x="294.3" y="195.9" font-size="8.4" text-anchor="end" fill="#111" >1.5</text>
<line x1="295.0" y1="179.10000000000002" x2="297.8" y2="179.10000000000002" stroke="#111" stroke-width="1.2" stroke-linecap="butt"/>
<text x="294.3" y="182.10000000000002" font-size="8.4" text-anchor="end" fill="#111" >2.0</text>
<line x1="313.65" y1="265.96999999999997" x2="313.65" y2="273.4525" stroke="#111" stroke-width="1.1" stroke-linecap="butt"/>
<line x1="310.45" y1="265.96999999999997" x2="316.84999999999997" y2="265.96999999999997" stroke="#111" stroke-width="1.1" stroke-linecap="butt"/>
<rect x="308.0" y="273.45" width="11.3" height="29.75" fill="#fff" stroke="#111" stroke-width="1.2"/>
<line x1="331.0" y1="261.6995" x2="331.0" y2="271.1895" stroke="#111" stroke-width="1.1" stroke-linecap="butt"/>
<line x1="327.8" y1="261.6995" x2="334.2" y2="261.6995" stroke="#111" stroke-width="1.1" stroke-linecap="butt"/>
<rect x="325.35" y="271.19" width="11.3" height="32.01" fill="#7f7f7f" stroke="#111" stroke-width="1.2"/>
<line x1="348.35" y1="267.211" x2="348.35" y2="272.175" stroke="#111" stroke-width="1.1" stroke-linecap="butt"/>
<line x1="345.15000000000003" y1="267.211" x2="351.55" y2="267.211" stroke="#111" stroke-width="1.1" stroke-linecap="butt"/>
<rect x="342.70000000000005" y="272.18" width="11.3" height="31.02" fill="#d2d2d2" stroke="#111" stroke-width="1.2"/>
<line x1="378.15" y1="249.983" x2="378.15" y2="256.84499999999997" stroke="#111" stroke-width="1.1" stroke-linecap="butt"/>
<line x1="374.95" y1="249.983" x2="381.34999999999997" y2="249.983" stroke="#111" stroke-width="1.1" stroke-linecap="butt"/>
<rect x="372.5" y="256.84" width="11.3" height="46.36" fill="#fff" stroke="#111" stroke-width="1.2"/>
<line x1="395.5" y1="250.27499999999998" x2="395.5" y2="260.714" stroke="#111" stroke-width="1.1" stroke-linecap="butt"/>
<line x1="392.3" y1="250.27499999999998" x2="398.7" y2="250.27499999999998" stroke="#111" stroke-width="1.1" stroke-linecap="butt"/>
<rect x="389.85" y="260.71" width="11.3" height="42.49" fill="#7f7f7f" stroke="#111" stroke-width="1.2"/>
<line x1="412.85" y1="252.46499999999997" x2="412.85" y2="262.32" stroke="#111" stroke-width="1.1" stroke-linecap="butt"/>
<line x1="409.65000000000003" y1="252.46499999999997" x2="416.05" y2="252.46499999999997" stroke="#111" stroke-width="1.1" stroke-linecap="butt"/>
<rect x="407.20000000000005" y="262.32" width="11.3" height="40.88" fill="#d2d2d2" stroke="#111" stroke-width="1.2"/>
<line x1="442.65" y1="250.89549999999997" x2="442.65" y2="261.006" stroke="#111" stroke-width="1.1" stroke-linecap="butt"/>
<line x1="439.45" y1="250.89549999999997" x2="445.84999999999997" y2="250.89549999999997" stroke="#111" stroke-width="1.1" stroke-linecap="butt"/>
<rect x="437.0" y="261.01" width="11.3" height="42.19" fill="#fff" stroke="#111" stroke-width="1.2"/>
<line x1="460.0" y1="256.991" x2="460.0" y2="262.32" stroke="#111" stroke-width="1.1" stroke-linecap="butt"/>
<line x1="456.8" y1="256.991" x2="463.2" y2="256.991" stroke="#111" stroke-width="1.1" stroke-linecap="butt"/>
<rect x="454.35" y="262.32" width="11.3" height="40.88" fill="#7f7f7f" stroke="#111" stroke-width="1.2"/>
<line x1="477.35" y1="256.115" x2="477.35" y2="263.488" stroke="#111" stroke-width="1.1" stroke-linecap="butt"/>
<line x1="474.15000000000003" y1="256.115" x2="480.55" y2="256.115" stroke="#111" stroke-width="1.1" stroke-linecap="butt"/>
<rect x="471.70000000000005" y="263.49" width="11.3" height="39.71" fill="#d2d2d2" stroke="#111" stroke-width="1.2"/>
<line x1="297.8" y1="247.85" x2="297.8" y2="303.84999999999997" stroke="#111" stroke-width="1.3" stroke-linecap="butt"/>
<line x1="297.15000000000003" y1="303.2" x2="492.5" y2="303.2" stroke="#111" stroke-width="1.3" stroke-linecap="butt"/>
<line x1="295.0" y1="303.2" x2="297.8" y2="303.2" stroke="#111" stroke-width="1.2" stroke-linecap="butt"/>
<text x="294.3" y="306.2" font-size="8.4" text-anchor="end" fill="#111" >0.0</text>
<line x1="295.0" y1="284.95" x2="297.8" y2="284.95" stroke="#111" stroke-width="1.2" stroke-linecap="butt"/>
<text x="294.3" y="287.95" font-size="8.4" text-anchor="end" fill="#111" >0.5</text>
<line x1="295.0" y1="266.7" x2="297.8" y2="266.7" stroke="#111" stroke-width="1.2" stroke-linecap="butt"/>
<text x="294.3" y="269.7" font-size="8.4" text-anchor="end" fill="#111" >1.0</text>
<line x1="295.0" y1="248.45" x2="297.8" y2="248.45" stroke="#111" stroke-width="1.2" stroke-linecap="butt"/>
<text x="294.3" y="251.45" font-size="8.4" text-anchor="end" fill="#111" >1.5</text>
<line x1="313.65" y1="353.11249999999995" x2="313.65" y2="357.65" stroke="#111" stroke-width="1.1" stroke-linecap="butt"/>
<line x1="310.45" y1="353.11249999999995" x2="316.84999999999997" y2="353.11249999999995" stroke="#111" stroke-width="1.1" stroke-linecap="butt"/>
<rect x="308.0" y="357.65" width="11.3" height="13.75" fill="#fff" stroke="#111" stroke-width="1.2"/>
<line x1="331.0" y1="355.65625" x2="331.0" y2="359.4375" stroke="#111" stroke-width="1.1" stroke-linecap="butt"/>
<line x1="327.8" y1="355.65625" x2="334.2" y2="355.65625" stroke="#111" stroke-width="1.1" stroke-linecap="butt"/>
<rect x="325.35" y="359.44" width="11.3" height="11.96" fill="#7f7f7f" stroke="#111" stroke-width="1.2"/>
<line x1="348.35" y1="349.67499999999995" x2="348.35" y2="354.405" stroke="#111" stroke-width="1.1" stroke-linecap="butt"/>
<line x1="345.15000000000003" y1="349.67499999999995" x2="351.55" y2="349.67499999999995" stroke="#111" stroke-width="1.1" stroke-linecap="butt"/>
<rect x="342.70000000000005" y="354.40" width="11.3" height="17.00" fill="#d2d2d2" stroke="#111" stroke-width="1.2"/>
<line x1="378.15" y1="331.9375" x2="378.15" y2="341.5625" stroke="#111" stroke-width="1.1" stroke-linecap="butt"/>
<line x1="374.95" y1="331.9375" x2="381.34999999999997" y2="331.9375" stroke="#111" stroke-width="1.1" stroke-linecap="butt"/>
<rect x="372.5" y="341.56" width="11.3" height="29.84" fill="#fff" stroke="#111" stroke-width="1.2"/>
<line x1="395.5" y1="321.9" x2="395.5" y2="331.25" stroke="#111" stroke-width="1.1" stroke-linecap="butt"/>
<line x1="392.3" y1="321.9" x2="398.7" y2="321.9" stroke="#111" stroke-width="1.1" stroke-linecap="butt"/>
<rect x="389.85" y="331.25" width="11.3" height="40.15" fill="#7f7f7f" stroke="#111" stroke-width="1.2"/>
<line x1="412.85" y1="331.25" x2="412.85" y2="345.0" stroke="#111" stroke-width="1.1" stroke-linecap="butt"/>
<line x1="409.65000000000003" y1="331.25" x2="416.05" y2="331.25" stroke="#111" stroke-width="1.1" stroke-linecap="butt"/>
<rect x="407.20000000000005" y="345.00" width="11.3" height="26.40" fill="#d2d2d2" stroke="#111" stroke-width="1.2"/>
<line x1="442.65" y1="323.41249999999997" x2="442.65" y2="335.65" stroke="#111" stroke-width="1.1" stroke-linecap="butt"/>
<line x1="439.45" y1="323.41249999999997" x2="445.84999999999997" y2="323.41249999999997" stroke="#111" stroke-width="1.1" stroke-linecap="butt"/>
<rect x="437.0" y="335.65" width="11.3" height="35.75" fill="#fff" stroke="#111" stroke-width="1.2"/>
<line x1="460.0" y1="318.875" x2="460.0" y2="332.625" stroke="#111" stroke-width="1.1" stroke-linecap="butt"/>
<line x1="456.8" y1="318.875" x2="463.2" y2="318.875" stroke="#111" stroke-width="1.1" stroke-linecap="butt"/>
<rect x="454.35" y="332.62" width="11.3" height="38.77" fill="#7f7f7f" stroke="#111" stroke-width="1.2"/>
<line x1="477.35" y1="328.0875" x2="477.35" y2="334.275" stroke="#111" stroke-width="1.1" stroke-linecap="butt"/>
<line x1="474.15000000000003" y1="328.0875" x2="480.55" y2="328.0875" stroke="#111" stroke-width="1.1" stroke-linecap="butt"/>
<rect x="471.70000000000005" y="334.27" width="11.3" height="37.12" fill="#d2d2d2" stroke="#111" stroke-width="1.2"/>
<line x1="297.8" y1="315.79999999999995" x2="297.8" y2="372.04999999999995" stroke="#111" stroke-width="1.3" stroke-linecap="butt"/>
<line x1="297.15000000000003" y1="371.4" x2="492.5" y2="371.4" stroke="#111" stroke-width="1.3" stroke-linecap="butt"/>
<line x1="295.0" y1="371.4" x2="297.8" y2="371.4" stroke="#111" stroke-width="1.2" stroke-linecap="butt"/>
<text x="294.3" y="374.4" font-size="8.4" text-anchor="end" fill="#111" >0</text>
<line x1="295.0" y1="357.65" x2="297.8" y2="357.65" stroke="#111" stroke-width="1.2" stroke-linecap="butt"/>
<text x="294.3" y="360.65" font-size="8.4" text-anchor="end" fill="#111" >1</text>
<line x1="295.0" y1="343.9" x2="297.8" y2="343.9" stroke="#111" stroke-width="1.2" stroke-linecap="butt"/>
<text x="294.3" y="346.9" font-size="8.4" text-anchor="end" fill="#111" >2</text>
<line x1="295.0" y1="330.15" x2="297.8" y2="330.15" stroke="#111" stroke-width="1.2" stroke-linecap="butt"/>
<text x="294.3" y="333.15" font-size="8.4" text-anchor="end" fill="#111" >3</text>
<line x1="295.0" y1="316.4" x2="297.8" y2="316.4" stroke="#111" stroke-width="1.2" stroke-linecap="butt"/>
<text x="294.3" y="319.4" font-size="8.4" text-anchor="end" fill="#111" >4</text>
<line x1="331.0" y1="371.4" x2="331.0" y2="374.4" stroke="#111" stroke-width="1.2" stroke-linecap="butt"/>
<line x1="395.5" y1="371.4" x2="395.5" y2="374.4" stroke="#111" stroke-width="1.2" stroke-linecap="butt"/>
<line x1="460.0" y1="371.4" x2="460.0" y2="374.4" stroke="#111" stroke-width="1.2" stroke-linecap="butt"/>
<text x="330.8" y="382.3" font-size="8.5" text-anchor="middle" fill="#111" >Control</text>
<text x="398.3" y="382.3" font-size="8.4" text-anchor="middle" fill="#111" >50 nmol/L DAU</text>
<text x="460.5" y="382.3" font-size="8.5" text-anchor="middle" fill="#111" >2 Gy IR</text>
<text transform="translate(267.4,206.0) rotate(-90)" font-size="9.0" text-anchor="middle" fill="#111">NADP<tspan font-size="6" dy="-3.5">+</tspan><tspan dy="3.5">:NADPH</tspan></text>
<text transform="translate(279.2,206.2) rotate(-90)" font-size="8.9" text-anchor="middle" fill="#111">Ratio</text>
<text transform="translate(267.4,277.3) rotate(-90)" font-size="9.4" text-anchor="middle" fill="#111">GSSG:GSH</text>
<text transform="translate(279.2,275.5) rotate(-90)" font-size="8.9" text-anchor="middle" fill="#111">Ratio</text>
<text transform="translate(267.4,342.5) rotate(-90)" font-size="8.8" text-anchor="middle" fill="#111">ROS Levels</text>
<text transform="translate(279.4,342.8) rotate(-90)" font-size="8.8" text-anchor="middle" fill="#111">(a.u.)</text>
</svg></body></html>
